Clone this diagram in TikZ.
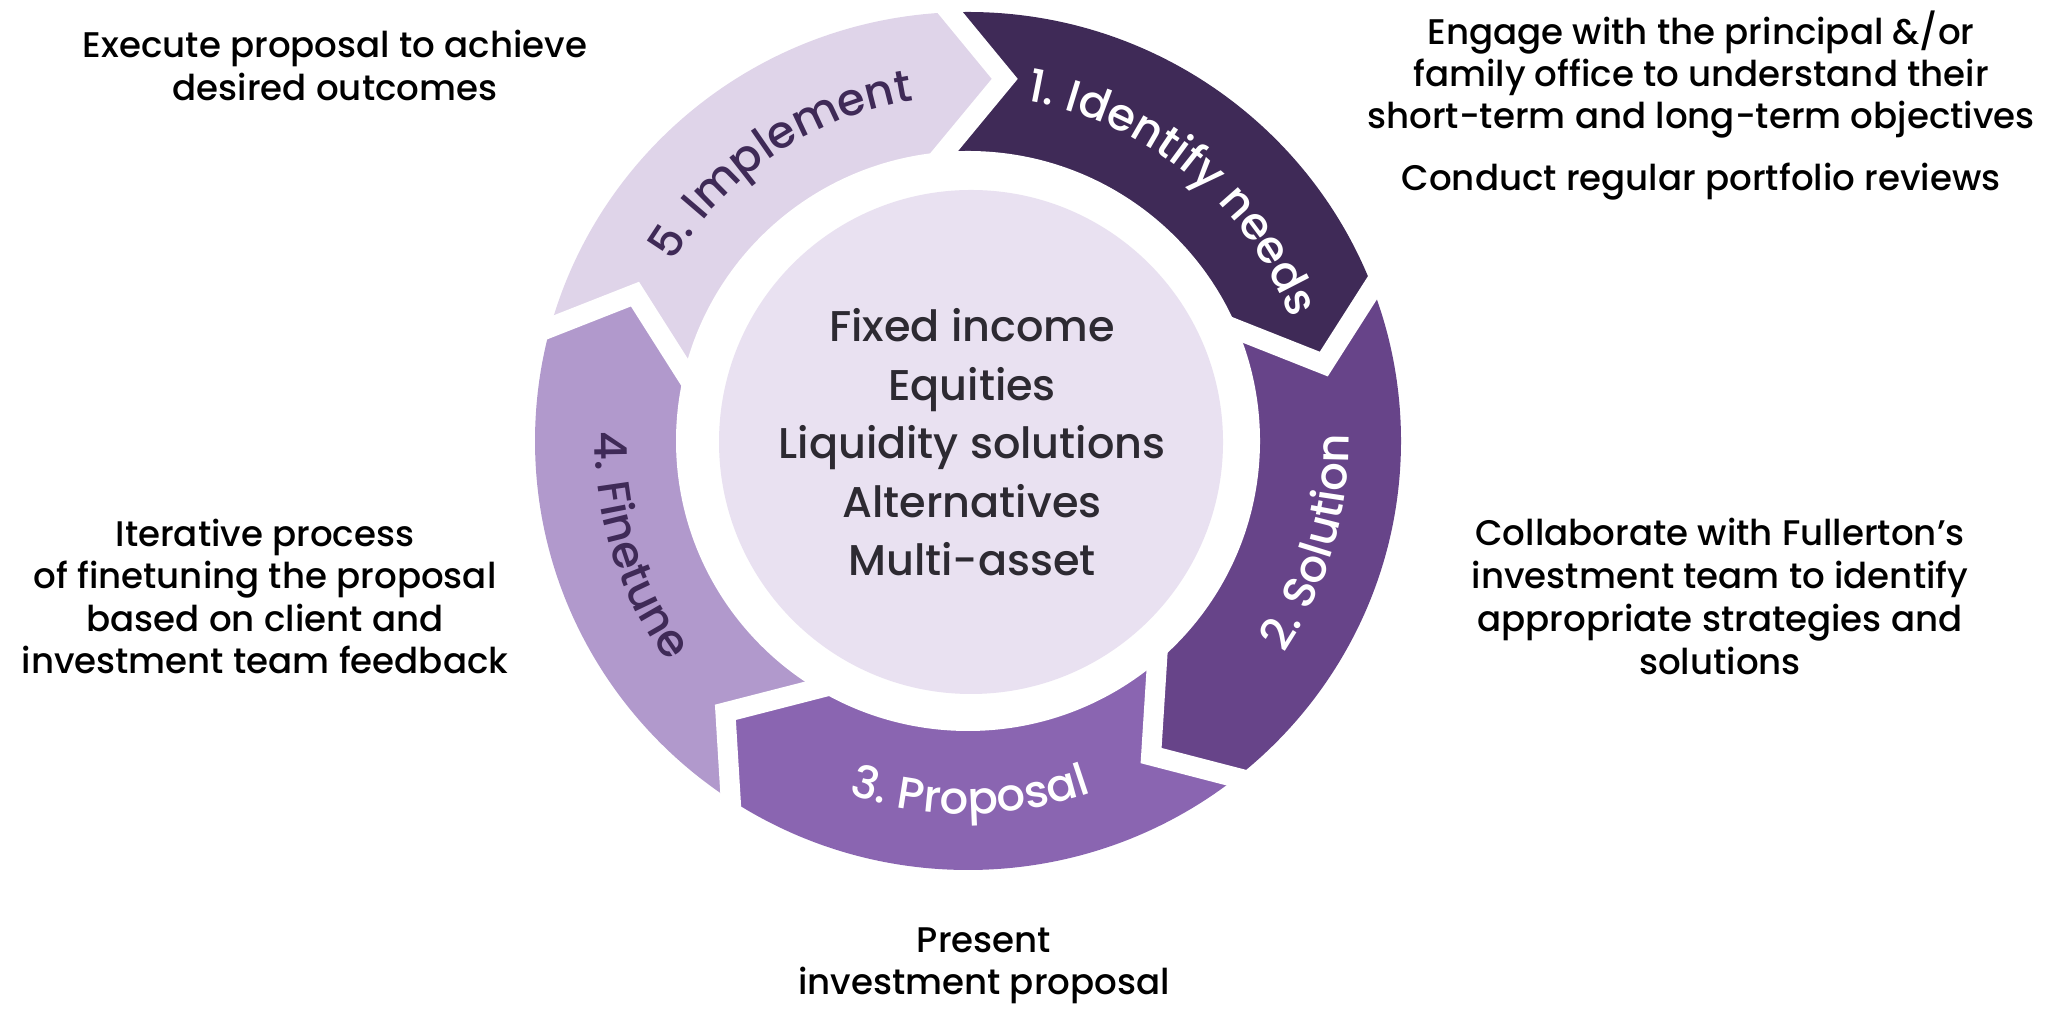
\documentclass[tikz,border=0pt]{standalone}
\usepackage{fontspec}
\setmainfont{Poppins Medium}
\usetikzlibrary{calc,decorations.text}
\definecolor{segone}{RGB}{63,42,87}
\definecolor{segtwo}{RGB}{103,68,137}
\definecolor{segthree}{RGB}{138,101,177}
\definecolor{segfour}{RGB}{177,153,204}
\definecolor{segfive}{RGB}{223,212,233}
\definecolor{innerc}{RGB}{233,225,241}
\definecolor{labdark}{RGB}{63,42,87}
\definecolor{ctext}{RGB}{45,42,50}
\newcommand\labfont{\fontsize{22.5}{26}\selectfont}
\newcommand\outfont{\fontsize{17.8}{21}\selectfont}
\newcommand\cenfont{\fontsize{21.5}{26}\selectfont}
\begin{document}
\begin{tikzpicture}[x=0.5pt,y=0.5pt,
  gapline/.style={draw=white,line width=10pt,line join=miter},
  outtxt/.style={font=\outfont,text=black,anchor=base,inner sep=0pt},
  centxt/.style={font=\cenfont,text=ctext,anchor=base,inner sep=0pt}]
\useasboundingbox (0,0) rectangle (2048,1026);
\coordinate (C) at (968,585);
\foreach \k/\a in {0/94.5,1/22.5,2/-49.5,3/-121.5,4/-193.5}{
  \coordinate (B\k-in) at ($(C)+({\a}:291)$);
  \coordinate (B\k-tip) at ($(C)+({\a-10.3}:364)$);
  \coordinate (B\k-out) at ($(C)+({\a-1.9}:431)$);
  \coordinate (B\k-far) at ($(B\k-tip)!1.7!(B\k-out)$);
  \coordinate (B\k-ff) at ($(B\k-tip)!3!(B\k-out)$);
  \coordinate (B\k-nin) at ($(B\k-tip)!1.45!(B\k-in)$);
  \coordinate (M\k) at ($(C)+({\a-36}:750)$);
}
\begin{scope}
\clip (C) ellipse[x radius=433,y radius=429];
\fill[segone] (C) -- (B0-in) -- (B0-tip) -- (B0-out) -- (B0-ff) -- (M0) -- (B1-ff) -- (B1-out) -- (B1-tip) -- (B1-in) -- cycle;
\fill[segtwo] (C) -- (B1-in) -- (B1-tip) -- (B1-out) -- (B1-ff) -- (M1) -- (B2-ff) -- (B2-out) -- (B2-tip) -- (B2-in) -- cycle;
\fill[segthree] (C) -- (B2-in) -- (B2-tip) -- (B2-out) -- (B2-ff) -- (M2) -- (B3-ff) -- (B3-out) -- (B3-tip) -- (B3-in) -- cycle;
\fill[segfour] (C) -- (B3-in) -- (B3-tip) -- (B3-out) -- (B3-ff) -- (M3) -- (B4-ff) -- (B4-out) -- (B4-tip) -- (B4-in) -- cycle;
\fill[segfive] (C) -- (B4-in) -- (B4-tip) -- (B4-out) -- (B4-ff) -- (M4) -- (B0-ff) -- (B0-out) -- (B0-tip) -- (B0-in) -- cycle;
\end{scope}
\fill[white] (C) ellipse[x radius=292,y radius=290];
\foreach \k in {0,...,4}{\draw[gapline] (B\k-nin) -- (B\k-tip) -- (B\k-far);}
\fill[innerc] (971,584) circle[radius=252];
% segment labels
\path[decorate,decoration={text along path,text align=center,text={|\labfont\color{white}|1. Identify needs}}]
  ($(C)+(100.5:345)$) arc[start angle=100.5,end angle=0.5,radius=345];
\path[decorate,decoration={text along path,text align=center,text={|\labfont\color{white}|2. Solution}}]
  ($(C)+(-66.5:381)$) arc[start angle=-66.5,end angle=33.5,radius=381];
\path[decorate,decoration={text along path,text align=center,text={|\labfont\color{white}|3. Proposal}}]
  ($(C)+(-139.7:373)$) arc[start angle=-139.7,end angle=-39.7,radius=373];
\path[decorate,decoration={text along path,text align=center,text={|\labfont\color{labdark}|4. Finetune}}]
  ($(C)+(-212.5:373)$) arc[start angle=-212.5,end angle=-112.5,radius=373];
\path[decorate,decoration={text along path,text align=center,text={|\labfont\color{labdark}|5. Implement}}]
  ($(C)+(174:345)$) arc[start angle=174,end angle=74,radius=345];
% centre text
\node[centxt] (c1) at (972,684) {Fixed income};
\node[centxt] (c2) at (972,625.5) {Equities};
\node[centxt] (c3) at (972,567) {Liquidity solutions};
\node[centxt] (c4) at (972,508.5) {Alternatives};
\node[centxt] (c5) at (972,450) {Multi-asset};
% outer texts
\node[outtxt] (tl1) at (335,968) {Execute proposal to achieve};
\node[outtxt] (tl2) at (335,925.6) {desired outcomes};
\node[outtxt] (tr1) at (1701,981.5) {Engage with the principal \&/or};
\node[outtxt] (tr2) at (1701,939.2) {family office to understand their};
\node[outtxt] (tr3) at (1701,897) {short-term and long-term objectives};
\node[outtxt] (tr4) at (1701,835.4) {Conduct regular portfolio reviews};
\node[outtxt] (r1) at (1720,480.6) {Collaborate with Fullerton’s};
\node[outtxt] (r2) at (1720,437.5) {investment team to identify};
\node[outtxt] (r3) at (1720,394.5) {appropriate strategies and};
\node[outtxt] (r4) at (1720,351.5) {solutions};
\node[outtxt] (l1) at (265,479) {Iterative process};
\node[outtxt] (l2) at (265,437) {of finetuning the proposal};
\node[outtxt] (l3) at (265,394) {based on client and};
\node[outtxt] (l4) at (265,352) {investment team feedback};
\node[outtxt] (b1) at (984,73.3) {Present};
\node[outtxt] (b2) at (984,31) {investment proposal};
\end{tikzpicture}
\end{document}
